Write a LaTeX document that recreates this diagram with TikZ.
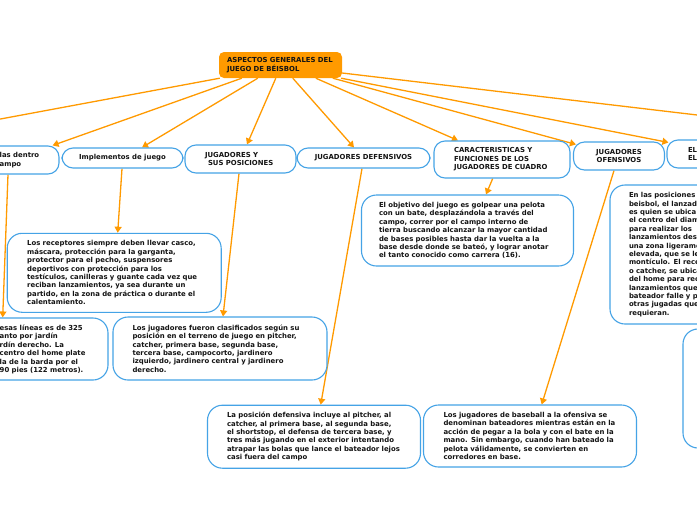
\documentclass[tikz,border=0pt]{standalone}
\usepackage{fontspec}
\setmainfont{DejaVu Sans}
\usetikzlibrary{arrows.meta,backgrounds}
\definecolor{orng}{HTML}{FF9A00}
\definecolor{bblue}{HTML}{45A3E6}
\definecolor{ink}{HTML}{141414}
\newcommand\tline[1]{\mbox{#1}}
\tikzset{
 fnt/.style={font=\fontsize{6.9}{8.4}\selectfont\bfseries, text=ink},
 topic/.style={draw=bblue, line width=1.1pt, fill=white, rounded corners=11pt, fnt, inner sep=0pt, align=center},
 leaf/.style={draw=bblue, line width=1.1pt, fill=white, rounded corners=15pt, fnt, inner sep=0pt, align=left},
 root/.style={fill=orng, rounded corners=5pt, fnt, inner sep=0pt, align=left},
 plain/.style={fnt, inner sep=0pt, align=left, anchor=west},
 conn/.style={draw=orng, line width=1.3pt, -{Triangle[length=6pt,width=7pt]}},
}
\begin{document}
\begin{tikzpicture}[x=1pt,y=-1pt]
\useasboundingbox (0,0) rectangle (697,520);
\clip (0,0) rectangle (697,520);

% root
\node[root, minimum width=123pt, minimum height=26pt, text width=107pt] (main) at (280.5,65)
 {\tline{ASPECTOS GENERALES DEL}\\\tline{JUEGO DE BÉISBOL}};

% first level
\node[topic, minimum width=118pt, minimum height=28pt] (leftN) at (0,160) {};
\node[plain] (leftT) at (-0.5,160) {\tline{las dentro}\\\tline{ampo}};
\node[topic, minimum width=121pt, minimum height=20pt] (impl) at (122.5,158) {Implementos de juego};
\node[topic, minimum width=111pt, minimum height=28pt, text width=71pt, align=left] (jyp) at (240.5,159)
 {\tline{JUGADORES Y}\\\tline{\hspace{3pt}SUS POSICIONES}};
\node[topic, minimum width=133pt, minimum height=20pt] (jd) at (363.5,158) {JUGADORES DEFENSIVOS};
\node[topic, minimum width=136pt, minimum height=37pt, text width=96pt, align=left] (car) at (502,159.5)
 {\tline{CARACTERISTICAS Y}\\\tline{FUNCIONES DE LOS}\\\tline{JUGADORES DE CUADRO}};
\node[topic, minimum width=91pt, minimum height=28pt] (jo) at (619,156) {JUGADORES\\OFENSIVOS};
\node[topic, minimum width=146pt, minimum height=28pt, text width=104pt, align=left] (el) at (740,154) {EL\\EL};

% second level
\node[leaf, minimum width=214pt, minimum height=79pt, text width=174pt] (rec) at (114.2,272.8)
 {\tline{Los receptores siempre deben llevar casco,}\\
  \tline{máscara, protección para la garganta,}\\
  \tline{protector para el pecho, suspensores}\\
  \tline{deportivos con protección para los}\\
  \tline{testículos, canilleras y guante cada vez que}\\
  \tline{reciban lanzamientos, ya sea durante un}\\
  \tline{partido, en la zona de práctica o durante el}\\
  \tline{calentamiento.}};
\node[leaf, minimum width=212pt, minimum height=62pt] (esas) at (2,349) {};
\node[plain] (esasT) at (-0.5,349.5)
 {\tline{esas líneas es de 325}\\
  \tline{anto por jardín}\\
  \tline{rdín derecho. La}\\
  \tline{centro del home plate}\\
  \tline{la de la barda por el}\\
  \tline{90 pies (122 metros).}};
\node[leaf, minimum width=214pt, minimum height=63pt, text width=175pt] (fue) at (220,348.5)
 {\tline{Los jugadores fueron clasificados según su}\\
  \tline{posición en el terreno de juego en pitcher,}\\
  \tline{catcher, primera base, segunda base,}\\
  \tline{tercera base, campocorto, jardinero}\\
  \tline{izquierdo, jardinero central y jardinero}\\
  \tline{derecho.}};
\node[leaf, minimum width=212pt, minimum height=71pt, text width=177pt] (obj) at (467.5,230.5)
 {\tline{El objetivo del juego es golpear una pelota}\\
  \tline{con un bate, desplazándola a través del}\\
  \tline{campo, correr por el campo interno de}\\
  \tline{tierra buscando alcanzar la mayor cantidad}\\
  \tline{de bases posibles hasta dar la vuelta a la}\\
  \tline{base desde donde se bateó, y lograr anotar}\\
  \tline{el tanto conocido como carrera (16).}};
\node[leaf, minimum width=212pt, minimum height=139pt, text width=174pt] (pos) at (716,254.5)
 {\tline{En las posiciones del}\\
  \tline{beisbol, el lanzador o}\\
  \tline{es quien se ubica en}\\
  \tline{el centro del diamante}\\
  \tline{para realizar los}\\
  \tline{lanzamientos desde}\\
  \tline{una zona ligeramente}\\
  \tline{elevada, que se le llama}\\
  \tline{montículo. El receptor}\\
  \tline{o catcher, se ubica detrás}\\
  \tline{del home para recibir los}\\
  \tline{lanzamientos que el}\\
  \tline{bateador falle y para}\\
  \tline{otras jugadas que lo}\\
  \tline{requieran.}};
\node[leaf, minimum width=117pt, minimum height=119pt] (rp) at (741.5,388.5) {};
\node[leaf, minimum width=213pt, minimum height=63pt, text width=174pt] (def) at (314,436.7)
 {\tline{La posición defensiva incluye al pitcher, al}\\
  \tline{catcher, al primera base, al segunda base,}\\
  \tline{el shortstop, el defensa de tercera base, y}\\
  \tline{tres más jugando en el exterior intentando}\\
  \tline{atrapar las bolas que lance el bateador lejos}\\
  \tline{casi fuera del campo}};
\node[leaf, minimum width=213pt, minimum height=62pt, text width=173pt] (ofe) at (530,436)
 {\tline{Los jugadores de baseball a la ofensiva se}\\
  \tline{denominan bateadores mientras están en la}\\
  \tline{acción de pegar a la bola y con el bate en la}\\
  \tline{mano. Sin embargo, cuando han bateado la}\\
  \tline{pelota válidamente, se convierten en}\\
  \tline{corredores en base.}};

\coordinate (offL) at (-20,122.8);
\coordinate (offR) at (720,117.7);

\begin{scope}[on background layer]
\fill[white] (0,0) rectangle (697,520);
\draw[conn] ([xshift=1pt]main.south west) -- (offL);
\draw[conn] ([xshift=23pt]main.south west) -- ([xshift=-7pt]leftN.north east);
\draw[conn] ([xshift=39pt]main.south west) -- ([xshift=19.5pt]impl.north);
\draw[conn] ([xshift=57pt]main.south west) -- ([xshift=6.5pt]jyp.north);
\draw[conn] ([xshift=74pt]main.south west) -- ([xshift=-9.5pt]jd.north);
\draw[conn] ([xshift=97pt]main.south west) -- ([xshift=-44pt]car.north);
\draw[conn] ([xshift=114pt]main.south west) -- ([xshift=3pt,yshift=-3pt]jo.north west);
\draw[conn] ([xshift=-1pt]main.south east) -- ([xshift=2pt,yshift=-3pt]el.north west);
\draw[conn] ([yshift=-8pt]main.east) -- (offR);

\draw[conn] ([xshift=8pt]leftN.south) -- ([xshift=0.7pt]esas.north);
\draw[conn] ([xshift=-0.5pt]impl.south) -- ([xshift=3.5pt]rec.north);
\draw[conn] ([xshift=-1.5pt]jyp.south) -- ([xshift=3pt]fue.north);
\draw[conn] ([xshift=-1.5pt]jd.south) -- ([xshift=6.7pt]def.north);
\draw[conn] ([xshift=-9.3pt]car.south) -- ([xshift=18.5pt]obj.north);
\draw[conn] ([xshift=-5pt]jo.south) -- ([xshift=11.7pt]ofe.north);
\end{scope}
\end{tikzpicture}
\end{document}
